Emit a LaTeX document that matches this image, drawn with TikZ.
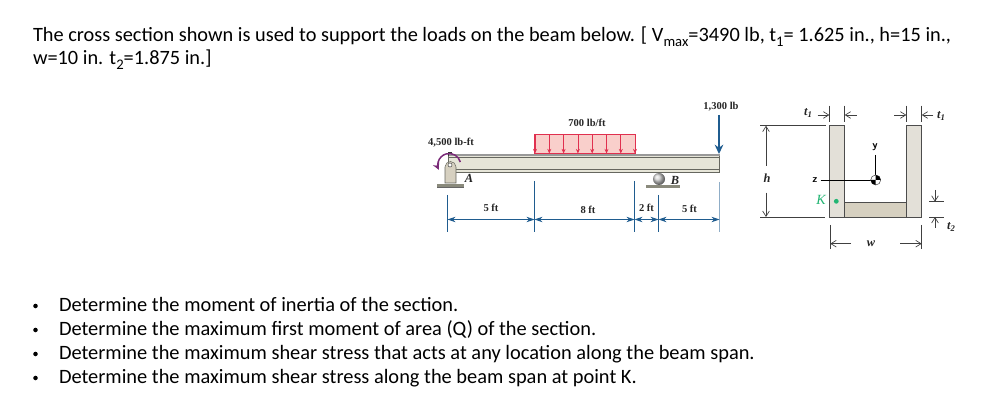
\documentclass[tikz,border=0pt]{standalone}
\usepackage{fontspec}
\setmainfont{Carlito}
\newfontfamily\labelfont{Liberation Serif}
\usetikzlibrary{arrows.meta,calc}
\definecolor{dimblue}{HTML}{1F5C8F}
\definecolor{loadred}{HTML}{E0304F}
\definecolor{loadfill}{HTML}{F9CFCB}
\definecolor{momentc}{HTML}{7A2A78}
\definecolor{beamfill}{HTML}{E6E5D8}
\definecolor{beamedge}{HTML}{66675F}
\definecolor{webfill}{HTML}{E3E0D8}
\definecolor{flangefill}{HTML}{D6D0C0}
\definecolor{kgreen}{HTML}{22B573}
\definecolor{baseg}{HTML}{8A8A7C}
\newcommand{\sbs}[1]{\raisebox{-0.5ex}{\fontsize{11}{12}\selectfont #1}}
\newcommand{\tsb}[1]{\raisebox{-0.3ex}{\fontsize{6.5}{7}\selectfont #1}}
\tikzset{
  x=0.75pt,y=-0.75pt,
  body/.style={anchor=base west,inner sep=0pt,outer sep=0pt,font=\fontsize{15.3}{18}\selectfont},
  headline/.style={body,font=\fontsize{15.25}{18}\selectfont},
  lab/.style={inner sep=0pt,font=\labelfont\bfseries\fontsize{7.9}{9}\selectfont,text=black!85},
  ital/.style={inner sep=0pt,font=\labelfont\bfseries\itshape\fontsize{9.3}{10}\selectfont,text=black!85},
  dimext/.style={draw=dimblue,line width=0.6pt},
  dimarrow/.style={draw=dimblue,line width=0.55pt,{Stealth[length=6pt,width=4pt]}-{Stealth[length=6pt,width=4pt]}},
  loadarrow/.style={draw=loadred,line width=0.5pt,-{Stealth[length=3.5pt,width=3pt]}},
  secline/.style={draw=black!75,line width=0.5pt},
  secarrow/.style={draw=black!75,line width=0.5pt,-{Straight Barb[length=4pt,width=5pt]}},
  bulletdot/.style={circle,fill=black,inner sep=0pt,minimum size=3.4pt},
}
\begin{document}
\begin{tikzpicture}
\useasboundingbox (0,0) rectangle (989,416);
\fill[white] (0,0) rectangle (989,416);

% heading
\node[headline] (head1) at (33,42) {The cross section shown is used to support the loads on the beam below. [ V\sbs{max}=3490 lb, t\sbs{1}= 1.625 in., h=15 in.,};
\node[headline] (head2) at (33,64.5) {w=10 in. t\sbs{2}=1.875 in.]};

% bullets
\node[bulletdot] (b1) at (35.5,306) {};
\node[bulletdot] (b2) at (35.5,330) {};
\node[bulletdot] (b3) at (35.5,354) {};
\node[bulletdot] (b4) at (35.5,378) {};
\node[body] (q1) at (59,312) {Determine the moment of inertia of the section.};
\node[body] (q2) at (59,336) {Determine the maximum first moment of area (Q) of the section.};
\node[body] (q3) at (59,360) {Determine the maximum shear stress that acts at any location along the beam span.};
\node[body] (q4) at (59,384) {Determine the maximum shear stress along the beam span at point K.};

% beam
\filldraw[fill=beamfill,draw=beamedge,line width=0.6pt] (448,154.5) rectangle (719.5,172);
\fill[black!40] (448,154.5) rectangle (719.5,156);
\draw[beamedge,line width=0.5pt] (448,157) -- (719.5,157);
\draw[beamedge,line width=0.5pt] (448,169.5) -- (719.5,169.5);

% distributed load
\filldraw[fill=loadfill,draw=loadred,line width=0.5pt] (534.5,134.5) rectangle (635,153);
\foreach \xx in {535,549.3,563.6,577.9,592.2,606.5,620.8,635}
  \draw[loadarrow] (\xx,134.5) -- (\xx,153.5);

% pin support A
\filldraw[fill=flangefill,draw=beamedge,line width=0.4pt] (445,183) -- (445,167) arc[start angle=180,end angle=0,radius=4.125pt] -- (456,183) -- cycle;
\fill[baseg] (437,184) rectangle (464,187);
\fill[black!60] (437,187) rectangle (464,188.5);
\draw[black!70,line width=0.4pt,fill=white] (450,165) circle (1.5pt);
\draw[black!80,line width=0.6pt] (448.5,156) -- (448.5,152) -- (452,152);
\draw[momentc,line width=1.1pt,-{Stealth[length=5pt,width=5pt]}] (460.3,162) arc[start angle=15,end angle=205,radius=8.6pt];

% roller B
\shade[ball color=black!18] (659,179) circle (4.5pt);
\fill[baseg] (646,185.5) rectangle (680,188);

% 1300 arrow
\coordinate (Ptop) at (719,115);
\coordinate (Pend) at (719,154);
\draw[dimblue,line width=1pt,-{Stealth[length=7pt,width=6.5pt]}] (Ptop) -- (Pend);

% beam labels
\node[lab] (l4500) at (451,142.5) {4,500 lb-ft};
\node[lab] (l700) at (587,123) {700 lb/ft};
\node[lab] (l1300) at (721,107) {1,300 lb};
\node[ital] (lA) at (469,178) {A};
\node[ital] (lB) at (675,180) {B};

% beam dimensions
\coordinate (d1t) at (447.5,195); \coordinate (d1b) at (447.5,232);
\coordinate (d2t) at (534.5,181); \coordinate (d2b) at (534.5,232);
\coordinate (d3t) at (634.5,181); \coordinate (d3b) at (634.5,232);
\coordinate (d4t) at (658.5,195); \coordinate (d4b) at (658.5,232);
\coordinate (d5t) at (719.5,182); \coordinate (d5b) at (719.5,232);
\foreach \n in {1,2,3,4} \draw[dimext] (d\n t) -- (d\n b);
\draw[dimext,draw=dimblue!50] (d5t) -- (d5b);
\coordinate (a1) at (447.5,219.5);
\coordinate (a2) at (534.5,219.5);
\coordinate (a3) at (634.5,219.5);
\coordinate (a4) at (658.5,219.5);
\coordinate (a5) at (719.5,219.5);
\draw[dimarrow] (a1) -- (a2);
\draw[dimarrow] (a2) -- (a3);
\draw[dimarrow] (a3) -- (a4);
\draw[dimarrow] (a4) -- (a5);
\node[lab] (l5a) at (491,208) {5 ft};
\node[lab] (l8) at (588,210) {8 ft};
\node[lab] (l2) at (646.5,207.5) {2 ft};
\node[lab] (l5b) at (689.5,209) {5 ft};

% cross section
\filldraw[fill=flangefill,draw=black!70,line width=0.6pt] (844.7,202.3) rectangle (906.3,217);
\filldraw[fill=webfill,draw=black!70,line width=0.6pt] (829.5,125.7) rectangle (844.7,217);
\filldraw[fill=webfill,draw=black!70,line width=0.6pt] (906.3,125.7) rectangle (921.7,217);

% axes
\coordinate (cen) at (875.7,180);
\coordinate (zend) at (820.7,180);
\coordinate (yend) at (875.7,155);
\draw[black,line width=0.6pt] (zend) -- (cen);
\draw[black,line width=0.6pt] (yend) -- (cen);
\filldraw[fill=white,draw=black!70,line width=0.4pt] (cen) circle (3.75pt);
\fill[black] (cen) -- ++(3.75pt,0pt) arc[start angle=0,end angle=90,radius=3.75pt] -- cycle;
\fill[black] (cen) -- ++(-3.75pt,0pt) arc[start angle=180,end angle=270,radius=3.75pt] -- cycle;
\node[inner sep=0pt,font=\sffamily\bfseries\fontsize{8}{9}\selectfont] (lz) at (815,180.5) {z};
\node[inner sep=0pt,font=\sffamily\bfseries\fontsize{8}{9}\selectfont] (ly) at (875,147.5) {y};
\node[inner sep=0pt,text=kgreen,font=\labelfont\itshape\fontsize{10.5}{12}\selectfont] (lK) at (821,200) {K};
\node[circle,fill=kgreen,inner sep=0pt,minimum size=3.6pt] (kdot) at (836.3,201.3) {};

% h dimension
\coordinate (hT) at (766,125.7);
\coordinate (hB) at (766,217);
\coordinate (hTe) at (766,166);
\coordinate (hBe) at (766,192.7);
\draw[secline] (760,125.7) -- (826,125.7);
\draw[secline] (760,217) -- (825,217);
\draw[secarrow] (hTe) -- (hT);
\draw[secarrow] (hBe) -- (hB);
\node[ital] (lh) at (767,178) {h};

% t1 dims
\foreach \xx in {829.3,844.7,906.3,921.7}
  \draw[secline] (\xx,105.7) -- (\xx,121.7);
\draw[secarrow] (817.7,115) -- (829.3,115);
\draw[secarrow] (856.7,115) -- (844.7,115);
\draw[secarrow] (894.3,115) -- (906.3,115);
\draw[secarrow] (933.3,115) -- (921.7,115);
\node[ital] (lt1a) at (808,113) {t\tsb{1}};
\node[ital] (lt1b) at (941,116) {t\tsb{1}};

% t2 dims
\draw[secline] (929,201.7) -- (944,201.7);
\draw[secline] (929,217) -- (944,217);
\draw[secarrow] (935,190) -- (935,201.7);
\draw[secarrow] (935,228) -- (935,217);
\node[ital] (lt2) at (951,227) {t\tsb{2}};

% w dim
\draw[secline] (830.3,225) -- (830.3,249.3);
\draw[secline] (921.7,225) -- (921.7,249.3);
\draw[secarrow] (851,243.7) -- (830.3,243.7);
\draw[secarrow] (900,243.7) -- (921.7,243.7);
\node[ital] (lw) at (871,243.5) {w};
\end{tikzpicture}
\end{document}
